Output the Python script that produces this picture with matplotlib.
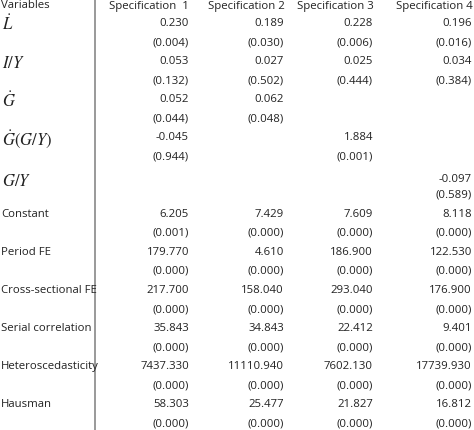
import matplotlib
matplotlib.use("Agg")
import matplotlib.pyplot as plt

plt.rcParams["mathtext.fontset"] = "stix"

headers = ["Variables", "Specification  1", "Specification 2", "Specification 3", "Specification 4"]
row_labels = [r"$\dot{L}$", r"$I/Y$", r"$\dot{G}$", r"$\dot{G}(G/Y)$", r"$G/Y$",
              "Constant", "Period FE", "Cross-sectional FE", "Serial correlation",
              "Heteroscedasticity", "Hausman"]
estimates = [
    ["0.230", "0.189", "0.228", "0.196"],
    ["0.053", "0.027", "0.025", "0.034"],
    ["0.052", "0.062", "", ""],
    ["-0.045", "", "1.884", ""],
    ["", "", "", "-0.097"],
    ["6.205", "7.429", "7.609", "8.118"],
    ["179.770", "4.610", "186.900", "122.530"],
    ["217.700", "158.040", "293.040", "176.900"],
    ["35.843", "34.843", "22.412", "9.401"],
    ["7437.330", "11110.940", "7602.130", "17739.930"],
    ["58.303", "25.477", "21.827", "16.812"],
]
pvalues = [
    ["0.004", "0.030", "0.006", "0.016"],
    ["0.132", "0.502", "0.444", "0.384"],
    ["0.044", "0.048", "", ""],
    ["0.944", "", "0.001", ""],
    ["", "", "", "0.589"],
    ["0.001", "0.000", "0.000", "0.000"],
    ["0.000", "0.000", "0.000", "0.000"],
    ["0.000", "0.000", "0.000", "0.000"],
    ["0.000", "0.000", "0.000", "0.000"],
    ["0.000", "0.000", "0.000", "0.000"],
    ["0.000", "0.000", "0.000", "0.000"],
]

W, H = 474, 431
fig = plt.figure(figsize=(W / 100, H / 100), dpi=100)
ax = fig.add_axes([0, 0, 1, 1])
ax.set_xlim(0, W)
ax.set_ylim(H, 0)
ax.axis("off")

font = "Open Sans"
fs = 8.2
col_right = [189, 284, 373, 472]
header_right = [189, 285, 374, 473]
est_y = [23, 62, 100, 138, 180, 215, 253, 291, 329, 367, 405]
pv_y = [43, 81, 119, 157, 195, 233, 271, 310, 348, 386, 424]
ink = "#222222"

ax.plot([95, 95], [0, H], color="#888888", lw=1.2)

ax.text(1, 6, headers[0], ha="left", va="center", fontsize=fs, family=font, color=ink)
for x, h in zip(header_right, headers[1:]):
    ax.text(x, 6, h, ha="right", va="center", fontsize=fs, family=font, color=ink)

for i, lab in enumerate(row_labels):
    if lab.startswith("$"):
        ax.text(2, est_y[i] + 1, lab, ha="left", va="center", fontsize=12, color=ink)
    else:
        ax.text(1, est_y[i], lab, ha="left", va="center", fontsize=fs, family=font, color=ink)
    for j in range(4):
        if estimates[i][j]:
            ax.text(col_right[j], est_y[i], estimates[i][j], ha="right", va="center",
                    fontsize=fs, family=font, color=ink)
        if pvalues[i][j]:
            ax.text(col_right[j], pv_y[i], "(" + pvalues[i][j] + ")", ha="right", va="center",
                    fontsize=fs, family=font, color=ink)

fig.savefig("out.png", dpi=100)
